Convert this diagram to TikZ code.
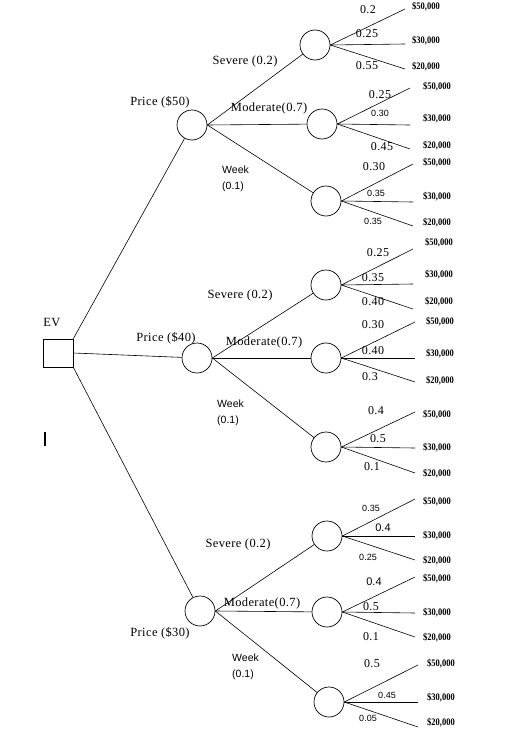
\documentclass[tikz,border=0pt]{standalone}
\usepackage{fontspec}
\setmainfont{Liberation Serif}
\newfontfamily\sansf{Liberation Sans}
\newfontfamily\payf[FakeStretch=0.85]{Liberation Serif}
\newfontfamily\lblf[LetterSpace=3]{Liberation Serif}
\tikzset{
  chance/.style={circle,draw,minimum size=30pt,inner sep=0pt,line width=0.7pt},
  decision/.style={rectangle,draw,minimum width=30pt,minimum height=28pt,inner sep=0pt,line width=0.7pt},
  br/.style={line width=0.6pt},
  lbl/.style={inner sep=0pt,font=\lblf\fontsize{12.5}{14}\selectfont},
  wk/.style={inner sep=0pt,anchor=west,align=left,font=\sansf\fontsize{10.5}{16}\selectfont},
  pay/.style={inner sep=0pt,font=\payf\bfseries\fontsize{10}{12}\selectfont},
  pr/.style={inner sep=0pt,font=\lblf\fontsize{12}{14}\selectfont},
  prs/.style={inner sep=0pt,font=\sansf\fontsize{9}{11}\selectfont},
  prm/.style={inner sep=0pt,font=\sansf\fontsize{11}{13}\selectfont},
}
\begin{document}
\begin{tikzpicture}[x=1pt,y=-1pt]
\useasboundingbox (0,0) rectangle (507,744);
% decision and price nodes
\node[decision] (ev) at (58,353) {};
\node[lbl] (evl) at (52,322) {EV};
\node[chance] (p1) at (192,125) {};
\node[chance] (p2) at (197,358) {};
\node[chance] (p3) at (200,611) {};
\node[lbl] (p1l) at (160,102) {Price (\$50)};
\node[lbl] (p2l) at (166,338) {Price (\$40)};
\node[lbl] (p3l) at (160,633) {Price (\$30)};
\draw[br] (ev.north east) -- (p1);
\draw[br] (ev.east) -- (p2);
\draw[br] (ev.south east) -- (p3);
% weather nodes
\node[chance] (s1) at (315,45) {};
\node[chance] (m1) at (322,124) {};
\node[chance] (w1) at (326,201) {};
\node[chance] (s2) at (326,285) {};
\node[chance] (m2) at (326,358) {};
\node[chance] (w2) at (326,447) {};
\node[chance] (s3) at (327,536) {};
\node[chance] (m3) at (327,612) {};
\node[chance] (w3) at (329,702) {};
\foreach \p/\s/\m/\w in {p1/s1/m1/w1,p2/s2/m2/w2,p3/s3/m3/w3}{
  \draw[br] (\p.east) -- (\s);
  \draw[br] (\p.east) -- (\m);
  \draw[br] (\p.east) -- (\w);
}
% weather labels
\node[lbl] (sl1) at (245,61) {Severe (0.2)};
\node[lbl] (sl2) at (240,295) {Severe (0.2)};
\node[lbl] (sl3) at (238,544) {Severe (0.2)};
\node[lbl] (ml1) at (269,108) {Moderate(0.7)};
\node[lbl] (ml2) at (264,342) {Moderate(0.7)};
\node[lbl] (ml3) at (262,603) {Moderate(0.7)};
\node[wk] (wl1) at (222,179) {Week\\(0.1)};
\node[wk] (wl2) at (217,413) {Week\\(0.1)};
\node[wk] (wl3) at (232,667) {Week\\(0.1)};
% outcome end points
\foreach \n/\x/\ya/\yb/\yc in {s1/405/9/44/69, m1/410/88/125/149, w1/413/164/202/226,
  s2/413/249/284/309, m2/415/322/358/382, w2/415/412/448/473,
  s3/415/499/536/560, m3/415/577/613/637, w3/418/665/702/727}{
  \coordinate (\n a) at (\x,\ya);
  \coordinate (\n b) at (\x,\yb);
  \coordinate (\n c) at (\x,\yc);
  \draw[br] (\n.east) -- (\n a);
  \draw[br] (\n.east) -- (\n b);
  \draw[br] (\n.east) -- (\n c);
}
% payoffs
\foreach \n/\x/\ya/\yb/\yc in {s1/426/7/41/67, m1/437/87/119/146, w1/437/163/197/223,
  s2/439/243/275/302, m2/440/322/354/381, w2/437/415/448/474,
  s3/437/502/536/561, m3/437/579/613/638, w3/441/664/698/723}{
  \node[pay] (\n pa) at (\x,\ya) {\$50,000};
  \node[pay] (\n pb) at (\x,\yb) {\$30,000};
  \node[pay] (\n pc) at (\x,\yc) {\$20,000};
}
% probabilities
\node[pr] (q1) at (368,10) {0.2};
\node[pr] (q2) at (367,34) {0.25};
\node[pr] (q3) at (367,66) {0.55};
\node[pr] (q4) at (380,95) {0.25};
\node[prs] (q5) at (380,113) {0.30};
\node[pr] (q6) at (382,147) {0.45};
\node[pr] (q7) at (374,167) {0.30};
\node[prs] (q8) at (376,193) {0.35};
\node[prs] (q9) at (373,221) {0.35};
\node[pr] (q10) at (378,253) {0.25};
\node[pr] (q11) at (373,278) {0.35};
\node[pr] (q12) at (373,302) {0.40};
\node[pr] (q13) at (373,325) {0.30};
\node[pr] (q14) at (373,351) {0.40};
\node[pr] (q15) at (370,377) {0.3};
\node[pr] (q16) at (376,411) {0.4};
\node[pr] (q17) at (378,439) {0.5};
\node[pr] (q18) at (372,467) {0.1};
\node[prs] (q19) at (371,508) {0.35};
\node[prm] (q20) at (383,528) {0.4};
\node[prs] (q21) at (368,557) {0.25};
\node[prm] (q22) at (374,582) {0.4};
\node[pr] (q23) at (371,607) {0.5};
\node[pr] (q24) at (371,637) {0.1};
\node[pr] (q25) at (372,664) {0.5};
\node[prs] (q26) at (387,695) {0.45};
\node[prs] (q27) at (368,718) {0.05};
% stray mark
\coordinate (mk1) at (45,432);
\coordinate (mk2) at (45,446);
\draw[line width=1.6pt] (mk1) -- (mk2);
\end{tikzpicture}
\end{document}
